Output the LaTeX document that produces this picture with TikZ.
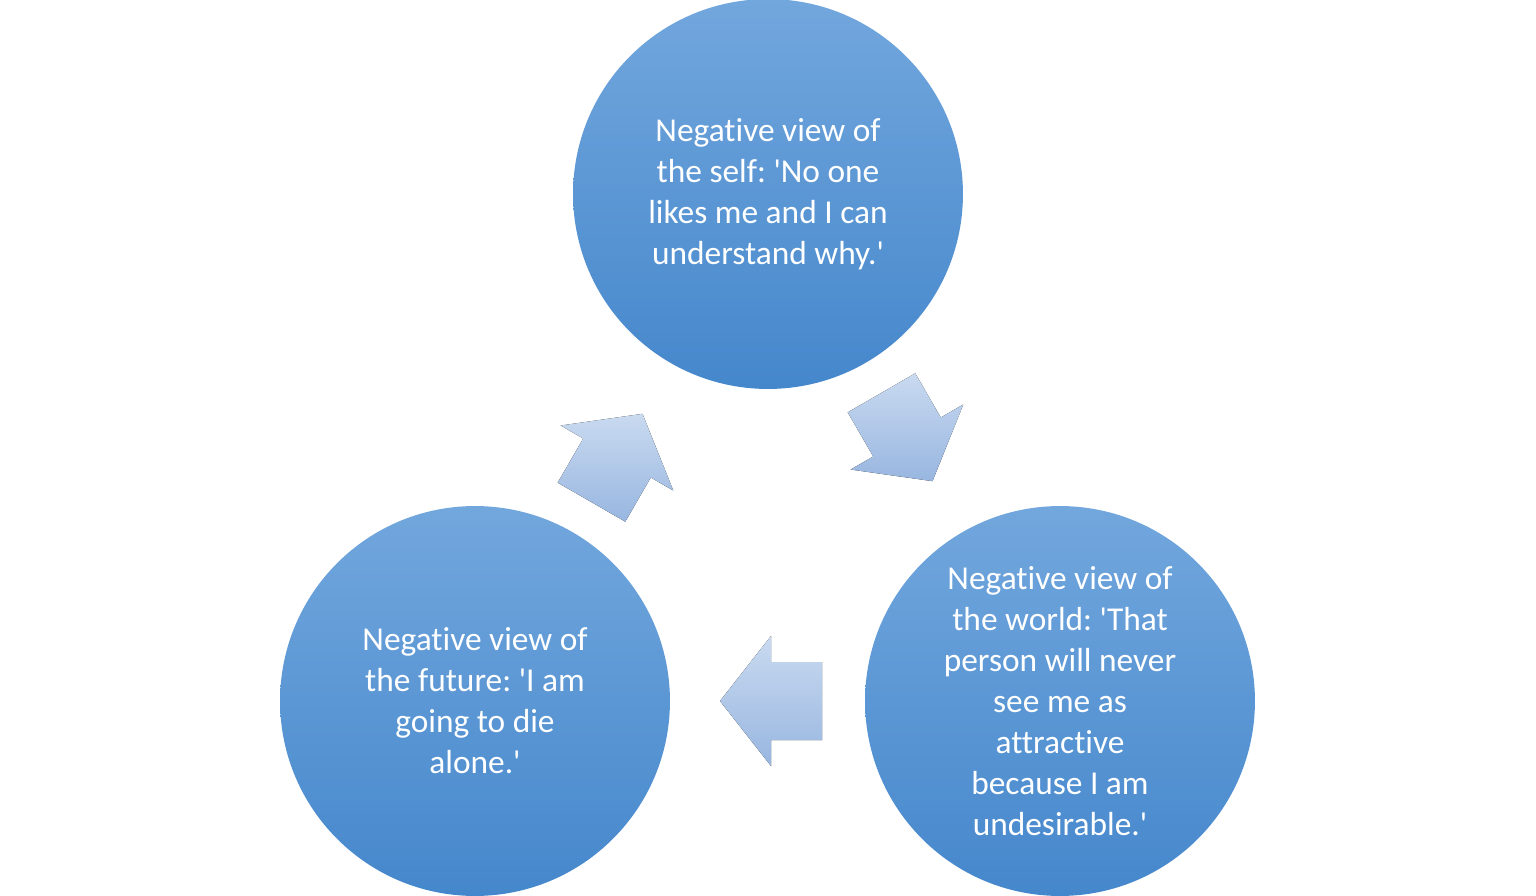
\documentclass[tikz,border=0pt]{standalone}
\usepackage{fontspec}
\setmainfont[Ligatures=NoCommon]{Carlito}
\usepackage{xcolor}
\usetikzlibrary{positioning}

\definecolor{circtop}{HTML}{72A7DD}
\definecolor{circbot}{HTML}{4587CC}
\definecolor{arrlight}{HTML}{C9DAF0}
\definecolor{arrdark}{HTML}{98B6E0}
\newcommand{\q}{\textquotesingle}
\newcommand{\blockarrow}{(-51,-39) -- (0,-39) -- (0,-65) -- (51,0) -- (0,65) -- (0,39) -- (-51,39) -- cycle}

\begin{document}
\frenchspacing
\begin{tikzpicture}[x=0.02cm,y=-0.02cm,
    view/.style={circle, minimum size=7.8cm, inner sep=0pt, top color=circtop, bottom color=circbot,
      text=white, align=center, font=\fontsize{19}{23.3}\selectfont},
    flow/.style={top color=arrlight, bottom color=arrdark}
]
\useasboundingbox (0,0) rectangle (1536,896);

\node[view] (self) at (768,194) {Negative view of\\the self: \q No one\\likes me and I can\\understand why.\q};
\node[view] (world) at (1060,701) {Negative view of\\the world: \q That\\person will never\\see me as\\attractive\\because I am\\undesirable.\q};
\node[view] (future) at (475,701) {Negative view of\\the future: \q I am\\going to die\\alone.\q};

% arrows between the views
\fill[flow, shift={(907,437)}, rotate=-60] \blockarrow;
\fill[flow, shift={(771,701)}, rotate=180] \blockarrow;
\fill[flow, shift={(617,458)}, rotate=60] \blockarrow;

\end{tikzpicture}
\end{document}
